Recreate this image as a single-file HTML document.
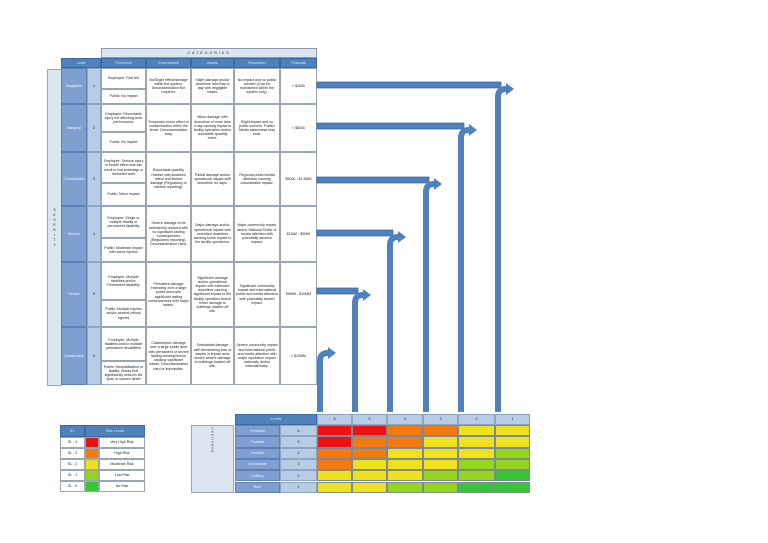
<!DOCTYPE html>
<html><head><meta charset="utf-8"><style>
body{margin:0;width:768px;height:543px;background:#fff;position:relative;overflow:hidden;font-family:"Liberation Sans",sans-serif}
.c{position:absolute;box-sizing:border-box;display:flex;align-items:center;justify-content:center;text-align:center;font-size:3.6px;line-height:4.2px;color:#222;border:0.5px solid #9aa6b2;padding:1px;overflow:hidden}
.hd{background:#4f81bd;color:#dfe8f5;border-color:#3d6a9e}
.lv{background:#7f9fd0;color:#eef3fa;border-color:#5f80b5}
.nm{background:#b8cce4;border-color:#8ea6c6}
.wh{background:#fff}
</style></head><body>
<div class="c" style="left:47px;top:69px;width:15px;height:317px;background:#dce6f1;flex-direction:column;font-size:3.5px;line-height:5px">S<br>E<br>V<br>E<br>R<br>I<br>T<br>Y</div>
<div class="c" style="left:101px;top:48px;width:216px;height:10px;background:#dce6f1;border:1px solid #8c99a6;letter-spacing:2px">CATEGORIES</div>
<div id="topTable"></div>
<svg id="arr" width="768" height="543" style="position:absolute;left:0;top:0"></svg>
<div id="grid"></div>
<div id="leg"></div>
<script>
const levels=["Negligible","Marginal","Considerable","Serious","Severe","Catastrophic"];
const emp=["Employee: First Aid","Employee: Recordable injury not affecting work performance","Employee: Serious injury or health effect that can result in lost workdays or restricted work","Employee: Single or multiple fatality or permanent disability","Employee: Multiple fatalities and/or Permanent disability","Employee: Multiple fatalities and/or multiple permanent disabilities"];
const pub=["Public: No impact","Public: No impact","Public: Minor impact","Public: Moderate impact with some injuries","Public: Multiple injuries and/or several critical injuries","Public: Hospitalisation or fatality; illness that significantly reduces life span or causes death"];
const envir=["No/Slight effect/damage within the system. Decontamination Not required.","Temporary minor effect or contamination within the fence. Decontamination easy","Reportable quantity release with localized effect and limited damage (Regulatory or internal reporting).","Severe damage to be extensively restored with no significant lasting consequences (Regulatory reporting). Decontamination Hard.","Persistent damage extending over a large public area with significant lasting consequences with major losses.","Catastrophic damage over a large public area with permanent or severe lasting consequences causing significant losses. Decontamination hard or impossible."];
const assets=["Slight damage and/or downtime less than a day with negligible losses.","Minor damage with downtime of more than a day causing impact to facility operation and/or reportable quantity event.","Partial damage and/or operational impact with downtime for days.","Major damage and/or operational impact with extended downtime causing some impact to the facility operations.","Significant damage and/or operational impact with extended downtime causing significant impact to the facility operation and/or minor damage to buildings located off site.","Substantial damage with devastating loss of assets in impact area and/or severe damage to buildings located off site."];
const reput=["No impact and no public concern (Can be maintained within the system only).","Slight impact and no public concern. Public/ Media awareness may exist.","Regional public/media attention causing considerable impact.","Major community impact and/or National Public or media attention with potentially adverse impact.","Significant community impact and International public and media attention with potentially severe impact.","Severe community impact and international public and media attention with major reputation impact nationally and/or internationally."];
const finan=["< $100k","< $500k","$500k - $1.5MM","$1MM - $5MM","$5MM - $10MM","> $10MM"];
const rowTops=[68,104,152,206,262,327,385];
const cols=[61,87,101,146,191,234,280,317];
const heads=["Level","","Personnel","Environment","Assets","Reputation","Financial"];
const topT=document.getElementById('topTable');
function cell(par,cls,x,y,w,h,t,name){const d=document.createElement('div');d.className='c '+cls;d.style.left=x+'px';d.style.top=y+'px';d.style.width=w+'px';d.style.height=h+'px';d.textContent=t;


par.appendChild(d);return d;}
cell(topT,'hd',cols[0],58,cols[2]-cols[0],10,'Level','level-header');
for(let i=2;i<7;i++)cell(topT,'hd',cols[i],58,cols[i+1]-cols[i],10,heads[i],'header-'+heads[i].toLowerCase());
for(let r=0;r<6;r++){const y=rowTops[r],h=rowTops[r+1]-y;
cell(topT,'lv',cols[0],y,26,h,levels[r],'level-'+levels[r].toLowerCase());
cell(topT,'nm',cols[1],y,14,h,String(r+1),'level-number');
const sp=Math.round(h*0.58);
cell(topT,'wh',cols[2],y,45,sp,emp[r],'employee-impact');
cell(topT,'wh',cols[2],y+sp,45,h-sp,pub[r],'public-impact');
cell(topT,'wh',cols[3],y,45,h,envir[r],'environment-impact');
cell(topT,'wh',cols[4],y,43,h,assets[r],'assets-impact');
cell(topT,'wh',cols[5],y,46,h,reput[r],'reputation-impact');
cell(topT,'wh',cols[6],y,37,h,finan[r],'financial-impact');}
const svg=document.getElementById('arr');const NS='http://www.w3.org/2000/svg';
const arrowRowY=[85,126,180,233,291,353];
const gx=[317,352,387,423,458,495,530];
function colCenter(level){const i=6-level;return gx[i]+3;}
for(let r=0;r<6;r++){const L=r+1,cx=colCenter(L),y=arrowRowY[r];
const g=document.createElementNS(NS,'g');


if(L<6){const b=document.createElementNS(NS,'rect');b.setAttribute('x',317);b.setAttribute('y',y-3);b.setAttribute('width',cx+3-317);b.setAttribute('height',6);b.setAttribute('fill','#4f81bd');b.setAttribute('stroke','#35649c');b.setAttribute('stroke-width','0.7');g.appendChild(b);}
const ay=L<6?y+4:y;
const p=document.createElementNS(NS,'path');p.setAttribute('d',`M${cx} 412 L${cx} ${ay+8} Q${cx} ${ay} ${cx+8} ${ay}`);p.setAttribute('stroke','#4f81bd');p.setAttribute('stroke-width','6');p.setAttribute('fill','none');g.appendChild(p);
const t=document.createElementNS(NS,'polygon');t.setAttribute('points',`${cx+8},${ay-6} ${cx+16},${ay} ${cx+8},${ay+6}`);t.setAttribute('fill','#4f81bd');g.appendChild(t);
svg.appendChild(g);}
const likely=["Frequent","Probable","Possible","Occasional","Unlikely","Rare"];
const likelyNum=[6,5,4,3,2,1];
const sevCols=[6,5,4,3,2,1];
const riskRows=[["R","R","O","O","Y","Y"],["R","O","O","Y","Y","Y"],["O","O","Y","Y","Y","G"],["O","Y","Y","Y","G","G"],["Y","Y","Y","G","G","D"],["Y","Y","G","G","D","D"]];
const colorMap={R:"#ee1111",O:"#f47a0f",Y:"#efe11a",G:"#96d61a",D:"#34c634"};
const grid=document.getElementById('grid');
const lp=cell(grid,'',191,425,43,68,'L I K E L I H O O D','likelihood-panel');
lp.style.background='#dce6f1';lp.style.justifyContent='flex-start';lp.style.writingMode='vertical-rl';lp.style.fontSize='3px';
cell(grid,'hd',235,414,82,11,'Levels','levels-header');
for(let c=0;c<6;c++)cell(grid,'nm',gx[c],414,gx[c+1]-gx[c],11,String(sevCols[c]),'severity-col-'+sevCols[c]);
const rh=11.3;
for(let r=0;r<6;r++){const y=425+r*rh;
cell(grid,'lv',235,y,45,rh,likely[r],'likelihood-'+likely[r].toLowerCase());
cell(grid,'nm',280,y,37,rh,String(likelyNum[r]),'likelihood-number');
for(let c=0;c<6;c++){const d=cell(grid,'',gx[c],y,gx[c+1]-gx[c],rh,'','risk-cell');d.style.background=colorMap[riskRows[r][c]];d.style.borderColor='#7a8a99';}}
const legSL=["SL - 4","SL - 3","SL - 2","SL - 1","SL - 0"];
const legTxt=["Very High Risk","High Risk","Moderate Risk","Low Risk","No Risk"];
const legCol=["R","O","Y","G","D"];
const leg=document.getElementById('leg');
cell(leg,'hd',60,425,25,12,'S.L','legend-header-sl');
cell(leg,'hd',85,425,60,12,'Risk Levels','legend-header-risk');
for(let i=0;i<5;i++){const y=437+i*11;
cell(leg,'wh',60,y,25,11,legSL[i],'legend-sl');
const s=cell(leg,'',85,y,14,11,'','legend-swatch');s.style.background=colorMap[legCol[i]];
cell(leg,'wh',99,y,46,11,legTxt[i],'legend-label');}
</script>
</body></html>
